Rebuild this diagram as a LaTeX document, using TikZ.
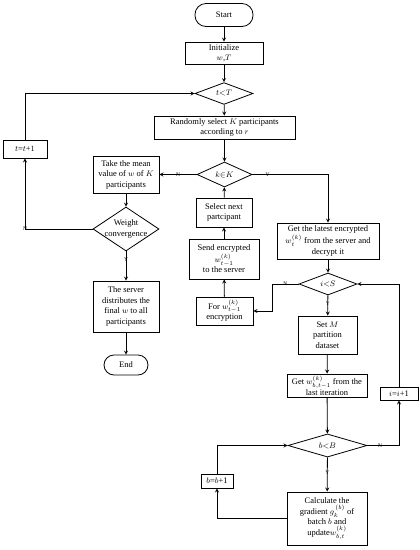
\documentclass[tikz,border=0pt]{standalone}
\usepackage{fontspec}
\setmainfont{Liberation Serif}
\usetikzlibrary{shapes.geometric}

\tikzset{
    box/.style={draw, thick, rectangle, align=center, inner sep=1pt,
        font=\fontsize{8.5}{10.5}\selectfont},
    decision/.style={draw, thick, diamond, inner sep=0pt, align=center,
        font=\fontsize{8.5}{10.5}\selectfont},
    terminal/.style={draw, thick, rectangle, rounded corners=11pt, align=center,
        font=\fontsize{8.5}{10.5}\selectfont},
    flow/.style={->, thick, >=stealth},
    yn/.style={font=\fontsize{5.5}{6}\selectfont, inner sep=1pt}
}

\begin{document}
\begin{tikzpicture}[x=1pt, y=-1pt]
    \useasboundingbox (0,0) rectangle (420,550);

    % Main column
    \node[terminal, minimum width=58pt, minimum height=23pt] (start) at (224,15) {Start};
    \node[box, minimum width=78pt, minimum height=22pt] (init) at (224,53) {Initialize\\$w$,$T$};
    \node[decision, minimum width=58pt, minimum height=21pt] (tT) at (224,93.5) {$t{<}T$};
    \node[box, minimum width=141pt, minimum height=23pt] (select) at (224.5,127.5) {Randomly select $K$ participants\\according to $r$};
    \node[decision, minimum width=55pt, minimum height=25pt] (kK) at (224.5,174.5) {$k{\in}K$};

    % Aggregation branch (left)
    \node[box, minimum width=66pt, minimum height=37pt] (mean) at (126,174.5) {Take the mean\\value of $w$ of $K$\\participants};
    \node[decision, minimum width=66pt, minimum height=44pt,
        label={[align=center, font=\fontsize{8.5}{10.5}\selectfont]center:Weight\\convergence}] (conv) at (126,229) {};
    \node[box, minimum width=66pt, minimum height=51pt] (server) at (126,306.5) {The server\\distributes the\\final $w$ to all\\participants};
    \node[terminal, rounded corners=10pt, minimum width=44pt, minimum height=20pt] (end) at (126,365) {End};
    \node[box, minimum width=44pt, minimum height=18pt] (tinc) at (25,149) {$t$=$t$+$1$};

    % Participant upload column
    \node[box, minimum width=56pt, minimum height=29pt] (next) at (224,212.5) {Select next\\partcipant};
    \node[box, minimum width=70pt, minimum height=40pt] (send) at (224,259) {Send encrypted\\$w_{t-1}^{(k)}$\\to the server};
    \node[box, minimum width=57pt, minimum height=28pt] (enc) at (224.5,311) {For $w_{t-1}^{(k)}$\\encryption};

    % Local training column (right)
    \node[box, minimum width=102pt, minimum height=36pt] (latest) at (328,241) {Get the latest encrypted\\$w_t^{(k)}$ from the server and\\decrypt it};
    \node[decision, minimum width=58pt, minimum height=22pt] (iS) at (328,284) {$i{<}S$};
    \node[box, minimum width=59pt, minimum height=38pt] (setM) at (327.5,335) {Set $M$\\partition\\dataset};
    \node[box, minimum width=80pt, minimum height=23pt] (getwb) at (327,385.5) {Get $w_{b,t-1}^{(k)}$ from the\\last iteration};
    \node[decision, minimum width=79pt, minimum height=23pt] (bB) at (327.5,445.5) {$b{<}B$};
    \node[box, minimum width=80pt, minimum height=53pt] (calc) at (327,518.5) {Calculate the\\gradient $g_k^{\,(b)}$ of\\batch $b$ and\\update$w_{b,t}^{(k)}$};
    \node[box, minimum width=38pt, minimum height=13pt] (iinc) at (399,393.5) {$i$=$i$+1};
    \node[box, minimum width=32pt, minimum height=14pt] (binc) at (217,481) {$b$=$b$+1};

    % Turning points
    \coordinate (kKturn) at (328,174.5);
    \coordinate (convturn) at (25,229);
    \coordinate (tTturn) at (25,93.5);
    \coordinate (iSturn) at (272,284);
    \coordinate (encturn) at (272,311);
    \coordinate (bBturn) at (399,445.5);
    \coordinate (iturn) at (399,284);
    \coordinate (calcturn) at (217,518);
    \coordinate (bturn) at (217,445.5);

    % Connectors
    \draw[flow] (start) -- (init);
    \draw[flow] (init) -- (tT);
    \draw[flow] (tT) -- (select);
    \draw[flow] (select) -- (kK);
    \draw[flow] (kK) -- node[yn] {N} (mean);
    \draw[flow] (kK.east) -- node[yn, pos=0.2] {Y} (kKturn) -- (latest.north);
    \draw[flow] (mean) -- (conv);
    \draw[flow] (conv) -- node[yn, pos=0.3] {Y} (server);
    \draw[flow] (server) -- (end);
    \draw[flow] (conv.west) -- (convturn) node[yn] {N} -- (tinc.south);
    \draw[flow] (tinc.north) -- (tTturn) -- (tT.west);

    \draw[flow] (latest) -- (iS);
    \draw[flow] (iS) -- node[yn, pos=0.4] {Y} (setM);
    \draw[flow] (iS.west) -- node[yn, pos=0.5] {N} (iSturn) -- (encturn) -- (enc.east);
    \draw[flow] (enc) -- (send);
    \draw[flow] (send) -- (next);
    \draw[flow] (next) -- (kK);
    \draw[flow] (setM) -- (getwb);
    \draw[flow] (getwb) -- (bB);
    \draw[flow] (bB.east) -- node[yn, pos=0.4] {N} (bBturn) -- (iinc.south);
    \draw[flow] (iinc.north) -- (iturn) -- (iS.east);
    \draw[flow] (bB) -- node[yn, pos=0.45] {Y} (calc);
    \draw[flow] (calc.west |- calcturn) -- (calcturn) -- (binc.south);
    \draw[flow] (binc.north) -- (bturn) -- (bB.west);
\end{tikzpicture}
\end{document}
